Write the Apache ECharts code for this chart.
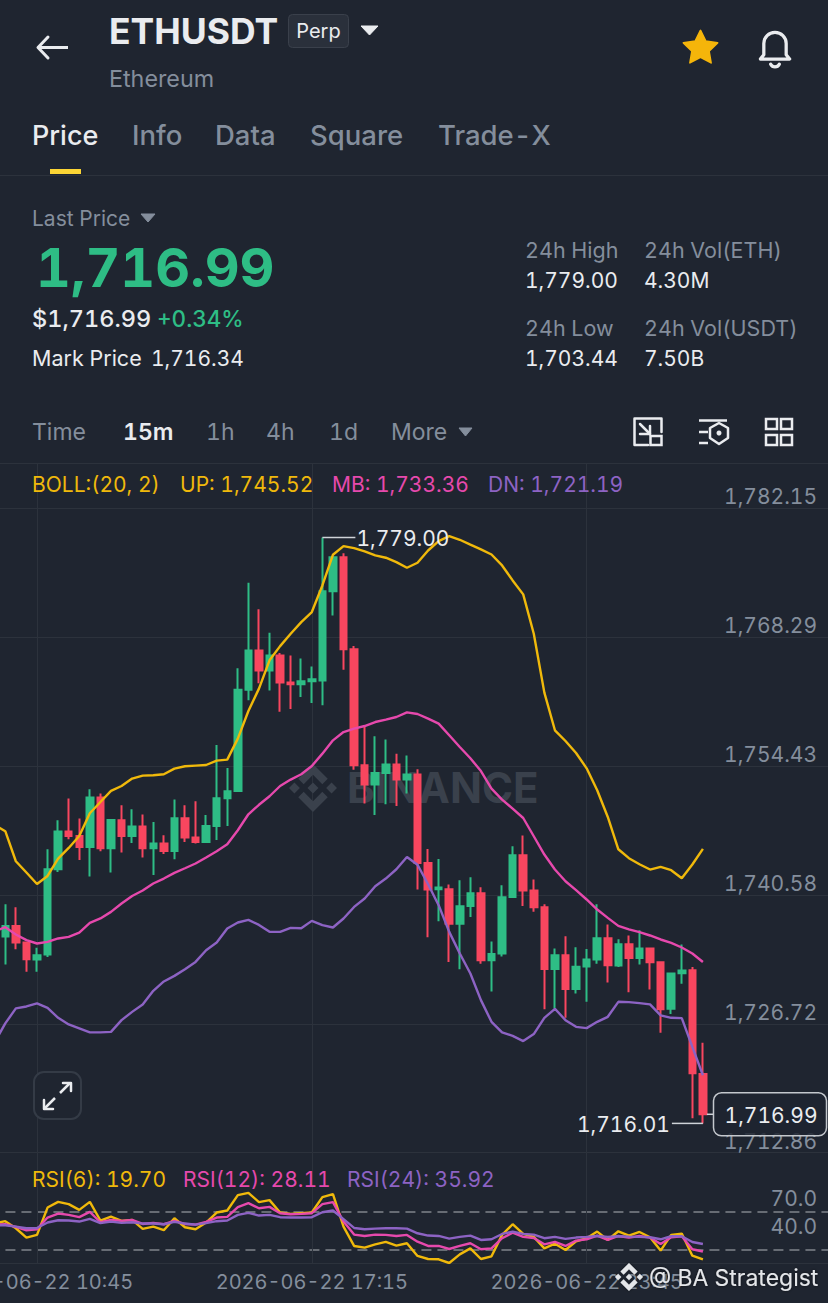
<!DOCTYPE html>
<html><head><meta charset="utf-8">
<style>html,body{margin:0;padding:0;background:#1f2530}#c{width:828px;height:1303px}#c text{font-variant-numeric:tabular-nums !important;font-feature-settings:"tnum" 1 !important}</style>
<script src="https://cdn.jsdelivr.net/npm/echarts@6/dist/echarts.min.js"></script>
</head><body><div id="c"></div>
<script>
const priceTicks=[1712.86,1726.72,1740.58,1754.43,1768.29,1782.15];
const rsiLevels=[30,70];
const rsiTicks=[40,70];
const timeTicks=['2026-06-22 10:45','2026-06-22 17:15','2026-06-22 23:45'];
const opens=['-',1736.10,1737.24,1735.46,1733.63,1734.17,1743.33,1747.38,1746.91,1745.73,1751.04,
1745.59,1748.60,1746.91,1747.92,1745.59,1746.09,1745.30,1748.81,1746.74,1746.27,
1747.99,1750.96,1751.75,1762.64,1766.86,1764.71,1766.32,1763.42,1763.21,1763.53,
1763.61,1773.23,1776.88,1766.97,1754.51,1752.43,1753.68,1754.58,1752.97,1753.51,
1744.01,1741.18,1741.18,1737.46,1739.39,1740.76,1733.56,1734.28,1740.36,1744.84,
1741.05,1739.25,1732.62,1734.09,1730.47,1732.88,1733.63,1735.92,1732.99,1735.28,
1733.80,1734.81,1733.34,1728.33,1732.16,1732.48,1721.31];
const closes=['-',1737.24,1735.46,1733.66,1734.09,1743.33,1747.38,1746.91,1745.73,1751.04,1745.59,
1748.63,1746.91,1747.92,1745.59,1746.09,1745.30,1748.81,1746.74,1746.27,1747.99,
1750.96,1751.71,1762.64,1766.86,1764.71,1766.32,1763.42,1763.21,1763.53,1763.75,
1773.23,1776.88,1766.97,1754.51,1752.43,1753.68,1754.58,1752.97,1753.51,1744.01,
1741.15,1741.37,1737.46,1739.36,1740.76,1733.56,1734.23,1740.33,1744.84,1741.05,
1739.25,1732.62,1734.09,1730.47,1732.84,1733.63,1735.92,1733.02,1735.28,1733.80,
1734.81,1733.34,1728.29,1732.13,1732.45,1721.39,1716.99];
const lows=['-',1733.10,1734.74,1732.30,1732.30,1733.91,1743.04,1746.56,1744.33,1742.55,1745.27,
1742.98,1745.13,1746.16,1744.59,1742.72,1744.98,1744.41,1746.27,1746.09,1746.27,
1746.48,1747.99,1751.75,1761.49,1763.32,1762.56,1760.27,1760.55,1761.84,1761.20,
1760.95,1770.62,1764.79,1754.04,1750.39,1749.17,1750.32,1750.13,1751.47,1741.15,
1736.03,1737.75,1733.37,1732.59,1738.21,1733.16,1730.19,1733.95,1740.36,1739.39,
1738.75,1728.29,1728.37,1727.36,1729.98,1729.08,1733.16,1731.16,1732.81,1730.12,
1733.10,1730.41,1725.75,1727.76,1731.01,1716.55,1716.01];
const highs=['-',1739.57,1739.25,1735.49,1734.88,1745.48,1748.60,1750.93,1748.78,1751.93,1751.47,
1748.67,1750.21,1749.78,1749.21,1748.41,1746.99,1750.82,1750.21,1750.64,1749.17,
1756.69,1754.22,1764.93,1774.13,1771.27,1768.76,1766.57,1766.32,1766.00,1765.14,
1779.00,1776.88,1777.31,1767.32,1758.62,1757.62,1757.27,1755.76,1755.55,1754.08,
1745.51,1744.44,1741.69,1742.15,1742.47,1741.40,1735.57,1741.61,1745.80,1746.95,
1742.23,1739.57,1734.81,1736.14,1734.95,1734.77,1739.57,1737.39,1735.81,1736.21,
1736.78,1734.81,1733.34,1732.13,1735.24,1732.81,1724.67];
const bollUp=[1748.06,1747.42,1744.19,1742.98,1741.75,1742.61,1744.48,1745.62,1746.91,1749.35,1750.56,
1751.75,1752.28,1753.08,1753.40,1753.43,1753.54,1754.15,1754.40,1754.47,1754.54,
1755.01,1755.12,1757.37,1760.34,1762.75,1765.79,1767.32,1768.65,1769.90,1770.98,
1773.84,1777.14,1778.07,1777.85,1777.50,1777.07,1776.82,1776.35,1775.74,1776.28,
1777.60,1778.60,1779.14,1778.75,1778.22,1777.71,1777.17,1775.99,1774.38,1772.88,
1768.65,1762.32,1758.27,1757.12,1755.83,1754.18,1751.82,1748.95,1745.48,1744.52,
1743.87,1743.30,1743.58,1743.23,1742.37,1743.84,1745.52];
const bollMid=[1736.67,1737.10,1736.32,1735.71,1735.35,1735.52,1735.89,1736.06,1736.53,1737.56,1738.04,
1738.75,1739.65,1740.46,1741.05,1741.80,1742.33,1742.94,1743.44,1743.95,1744.59,
1745.27,1746.02,1747.52,1749.24,1750.26,1751.18,1752.28,1752.97,1753.54,1754.43,
1755.76,1757.19,1758.08,1758.45,1758.73,1759.16,1759.42,1759.70,1760.20,1760.02,
1759.52,1758.99,1757.73,1756.47,1755.26,1753.89,1752.00,1750.82,1749.85,1748.84,
1746.88,1744.91,1743.30,1742.04,1741.08,1740.08,1739.00,1738.10,1737.24,1736.86,
1736.57,1736.21,1735.78,1735.42,1734.92,1734.28,1733.36];
const bollDn=[1724.75,1726.76,1728.37,1728.58,1728.91,1728.43,1727.36,1726.65,1726.22,1725.79,1725.79,
1725.85,1727.11,1728.00,1728.80,1730.26,1731.27,1731.87,1732.59,1733.37,1734.63,
1735.46,1736.96,1737.61,1737.89,1737.35,1736.60,1736.60,1737.03,1736.99,1737.78,
1737.32,1737.07,1738.04,1739.28,1740.19,1741.51,1742.33,1743.33,1744.65,1743.82,
1741.72,1739.47,1736.60,1734.28,1732.13,1729.26,1726.93,1725.79,1725.42,1724.86,
1725.61,1727.36,1728.33,1727.11,1726.39,1726.25,1726.93,1727.47,1729.08,1729.05,
1728.94,1728.80,1727.62,1727.36,1727.33,1724.24,1721.19];
const rsi6=[57.8,59.9,52.5,42.7,45.5,74.2,80.2,77.8,71.8,80.2,60.6,
64.8,60.2,61.3,51.8,54.2,50.4,63.0,53.5,51.4,58.5,
69.0,71.1,87.2,89.7,79.9,82.0,69.0,67.6,68.3,69.0,
85.1,88.3,54.2,33.9,32.1,35.6,38.1,34.2,36.7,23.4,
20.2,19.9,16.0,25.1,31.4,20.2,23.0,45.5,56.7,46.5,
43.4,31.4,36.3,29.7,38.8,42.0,49.0,40.2,49.3,44.8,
48.6,43.0,29.0,45.5,46.9,23.7,19.70];
const rsi12=[56.0,56.7,53.9,50.4,51.4,63.7,67.9,66.5,64.1,69.7,58.8,
61.3,60.2,61.3,57.0,58.1,56.7,60.2,57.0,56.3,59.2,
63.7,64.4,74.6,78.8,73.5,74.9,68.3,67.2,67.6,68.3,
77.8,79.9,59.5,45.8,44.4,45.8,45.5,44.4,45.5,38.4,
33.9,33.9,30.7,33.9,36.7,30.4,31.4,42.0,47.9,43.4,
42.3,35.6,38.1,33.9,39.5,40.9,44.8,40.2,44.4,42.7,
44.4,42.7,36.0,43.0,44.1,30.4,28.11];
const rsi24=[55.3,55.6,54.2,52.5,52.8,58.5,60.9,60.6,59.5,62.3,57.8,
59.5,58.1,58.8,57.4,57.4,56.7,59.2,57.4,56.3,57.8,
59.9,60.6,66.5,68.6,65.8,66.5,64.1,63.7,63.7,64.1,
69.3,71.1,62.0,52.8,51.4,52.1,52.5,52.5,52.1,47.2,
44.8,44.4,41.6,43.4,44.8,40.2,40.9,46.5,49.0,46.5,
45.8,42.0,43.4,41.3,42.7,43.4,44.4,43.4,44.1,43.7,
43.4,43.0,40.9,44.1,44.1,38.1,35.92];

const BG='#1f2530',GRID='#2c323c',GRAY='#848e9c',WHITE='#eaecef',GREEN='#2ebd85',RED='#f8465f',YEL='#f0b90b',PINK='#e649ad',PUR='#8d63c4';
const FONT='Inter, "Open Sans", sans-serif';
const SLOTS=80, BAND=10.57;
const categories=[];
{let m=9*60+45;for(let i=0;i<SLOTS;i++){const t=m+15*i,d=22+Math.floor(t/1440),hh=Math.floor(t%1440/60),mm=t%60;
 categories.push('2026-06-'+String(d).padStart(2,'0')+' '+String(hh).padStart(2,'0')+':'+String(mm).padStart(2,'0'));}}
const tickSet=new Set(timeTicks);
const isTimeTick=(i,v)=>tickSet.has(v);
const fmt=v=>Number(v).toLocaleString('en-US',{minimumFractionDigits:2,maximumFractionDigits:2});
const candle=opens.map((o,i)=>[o,closes[i],lows[i],highs[i]]);
const line=(name,data,color,x,y)=>({name,type:'line',data,xAxisIndex:x,yAxisIndex:y,symbol:'none',silent:true,z:5,
  lineStyle:{color,width:2.4},itemStyle:{color}});
const G=[];
const T=(text,x,y,size,fill,weight,align)=>G.push({type:'text',x,y:y+1,z:20,silent:true,style:{text,fill,fontFamily:FONT,fontSize:size,fontWeight:weight||400,textAlign:align||'left',textVerticalAlign:'middle'}});
const L=(x1,y1,x2,y2,stroke,w)=>G.push({type:'line',z:19,silent:true,shape:{x1,y1,x2,y2},style:{stroke,lineWidth:w||1}});
const PL=(points,stroke,w,fill)=>G.push({type:fill?'polygon':'polyline',z:21,silent:true,shape:{points},style:{stroke,lineWidth:w,fill:fill||null,lineCap:'round',lineJoin:'round'}});
const Tri=(x1,x2,y1,y2,fill)=>G.push({type:'polygon',z:20,silent:true,shape:{points:[[x1,y1],[x2,y1],[(x1+x2)/2,y2]]},style:{fill,stroke:fill,lineWidth:1,lineJoin:'round'}});
let shapeId=0;
const P=(d,box,cx,cy,size,style,z)=>{const name='svgicon'+(shapeId++);echarts.graphic.registerShape(name,echarts.graphic.extendPath(d,{}));
  const s=size/box;G.push({type:name,z:z||20,silent:true,x:cx-size/2,y:cy-size/2,scaleX:s,scaleY:s,style});};
const LOGO='M38.73 53.2l24.59-24.58 24.6 24.6 14.3-14.31L63.32 0 24.43 38.89l14.3 14.31zM0 63.31l14.3-14.31 14.31 14.31-14.31 14.3zM38.73 73.41l24.59 24.59 24.6-24.6 14.31 14.29-38.9 38.91-38.91-38.88-.02-.02zM98.01 63.31l14.3-14.31 14.3 14.31-14.3 14.3zM77.83 63.3l-14.51-14.52-10.73 10.73-1.24 1.23-2.54 2.54 14.51 14.5 14.51-14.5z';

// header
PL([[48,37],[38,47.5],[48,58]],WHITE,3);
L(38,47.5,68,47.5,WHITE,3);
T('ETHUSDT',109,30,35.5,WHITE,700);
G.push({type:'rect',z:19,silent:true,shape:{x:288.5,y:14.5,width:60,height:33,r:4},style:{fill:'#2a303b',stroke:'#3a404b',lineWidth:1}});
T('Perp',318.5,30,20,WHITE,400,'center');
Tri(361,378,26,35,WHITE);
T('Ethereum',109,77,23.3,GRAY);
P('M12 2l3.09 6.26L22 9.27l-5 4.87L18.18 21 12 17.77 5.82 21 7 14.14l-5-4.87 6.91-1.01z',24,700.5,47.5,41,{fill:'#f5b50a',stroke:'#f5b50a',lineWidth:1,lineJoin:'round'});
P('M6 17V10.5a6.5 6.5 0 0 1 13 0V17l2 2.5H4zM10 22.5a2.8 2.8 0 0 0 5 0',25,775,47,43,{fill:null,stroke:WHITE,lineWidth:1.9,lineJoin:'round',lineCap:'round'});
[['Price',32,WHITE,500,27],['Info',132,GRAY,500,27.5],['Data',215,GRAY,500,27.5],['Square',310,GRAY,500,27.5],['Trade-X',438,GRAY,500,27.5]].forEach(a=>T(a[0],a[1],134,a[4],a[2],a[3]));
G.push({type:'rect',z:20,silent:true,shape:{x:50,y:169,width:31,height:5},style:{fill:'#fcd535'}});
L(0,175.5,828,175.5,GRID,1);
// price block
T('Last Price',32,217,21,GRAY);
Tri(141,155,214,222,GRAY);
T('1,716.99',36,266,54,GREEN,700);
T('$1,716.99',32,317,23.5,WHITE,500);
T('+0.34%',157,317,22.5,GREEN,500);
T('Mark Price',32,357,21.5,WHITE);
T('1,716.34',151,357,21,WHITE);
T('24h High',525,249,21.5,GRAY);T('24h Vol(ETH)',644,249,21.5,GRAY);
T('1,779.00',525,279,21,WHITE);T('4.30M',644,279,21,WHITE);
T('24h Low',525,327,21.5,GRAY);T('24h Vol(USDT)',644,327,21.5,GRAY);
T('1,703.44',525,357,21,WHITE);T('7.50B',644,357,21,WHITE);
// interval row
[['Time',32,GRAY,400],['15m',123,WHITE,600],['1h',206,GRAY,400],['4h',266,GRAY,400],['1d',329,GRAY,400],['More',391,GRAY,400]].forEach(a=>T(a[0],a[1],431,23,a[2],a[3]));
Tri(459,472,428,436,GRAY);
PL([[648,445],[634.5,445],[634.5,418.5],[661.5,418.5],[661.5,432]],WHITE,2.5);
PL([[640,424],[650,434]],WHITE,2.5);PL([[640,434],[650,434],[650,426]],WHITE,2.5);
G.push({type:'rect',z:20,silent:true,shape:{x:650.5,y:436,width:11,height:9},style:{fill:null,stroke:WHITE,lineWidth:2.5}});
L(699,420.5,727,420.5,WHITE,2.5);L(699,432,708,432,WHITE,2.5);L(699,443,708,443,WHITE,2.5);
PL([[719,423],[728,428],[728,438],[719,444],[710,438],[710,428],[719,423]],WHITE,2.5);
G.push({type:'circle',z:20,silent:true,shape:{cx:719,cy:433,r:2.5},style:{fill:WHITE}});
[[766,419],[781,419],[766,435],[781,435]].forEach(p=>G.push({type:'rect',z:20,silent:true,shape:{x:p[0],y:p[1],width:11,height:10},style:{fill:null,stroke:WHITE,lineWidth:2.5}}));
L(0,463.5,828,463.5,GRID,1);
// legends
T('BOLL:(20, 2)',32,483,21,YEL);T('UP: 1,745.52',180,483,21,YEL);T('MB: 1,733.36',332,483,21,PINK);T('DN: 1,721.19',488,483,21,PUR);
T('RSI(6): 19.70',32,1178,21,YEL);T('RSI(12): 28.11',183,1178,21,PINK);T('RSI(24): 35.92',347,1178,21,PUR);
// watermark
P(LOGO,126.6,313,788,48,{fill:'#3a414c'},1);
G.push({type:'text',x:347,y:787,z:1,silent:true,style:{text:'BINANCE',fill:'#3a414c',fontFamily:FONT,fontSize:42,fontWeight:700,textAlign:'left',textVerticalAlign:'middle'}});
// expand button
G.push({type:'rect',z:18,silent:true,shape:{x:34,y:1072,width:47,height:47,r:10},style:{fill:BG,stroke:'#343b46',lineWidth:2}});
L(60,1093,70,1083,WHITE,2.5);L(45,1108,55,1098,WHITE,2.5);
PL([[63,1083],[71,1083],[71,1091]],WHITE,2.5);
PL([[44,1100],[44,1109],[53,1109]],WHITE,2.5);
// footer watermark
P(LOGO,126.6,629,1277,28,{fill:'#e4e6e9',shadowBlur:3,shadowColor:'rgba(0,0,0,.5)'},30);
G.push({type:'text',x:649,y:1278,z:30,silent:true,style:{text:'@ BA Strategist',fill:'#e4e6e9',fontFamily:FONT,fontSize:23,textAlign:'left',textVerticalAlign:'middle',textShadowBlur:3,textShadowColor:'rgba(0,0,0,.6)'}});

const chart=echarts.init(document.getElementById('c'),null,{renderer:'svg'});
const option={
 animation:false,backgroundColor:BG,
 grid:[{left:-BAND,width:BAND*SLOTS,top:463.5,height:689.2,outerBoundsMode:'none'},{left:-BAND,width:BAND*SLOTS,top:1152.7,height:110.3,outerBoundsMode:'none'}],
 xAxis:[
  {type:'category',gridIndex:0,data:categories,boundaryGap:true,axisLine:{show:false},axisTick:{show:false},axisLabel:{show:false},
   splitLine:{show:true,interval:isTimeTick,alignWithLabel:true,lineStyle:{color:GRID,width:1}}},
  {type:'category',gridIndex:1,data:categories,boundaryGap:true,axisLine:{show:true,lineStyle:{color:GRID,width:1}},axisTick:{show:false},
   axisLabel:{show:true,interval:isTimeTick,color:GRAY,fontFamily:FONT,fontSize:20,margin:9,hideOverlap:false},
   splitLine:{show:true,interval:isTimeTick,alignWithLabel:true,lineStyle:{color:GRID,width:1}}}
 ],
 yAxis:[
  {type:'value',gridIndex:0,position:'right',min:1712.86,max:1786.95,axisLine:{show:false},
   axisTick:{show:false,customValues:priceTicks},
   axisLabel:{inside:true,margin:18,color:GRAY,fontFamily:FONT,fontSize:21,verticalAlign:'bottom',padding:[0,0,1,0],customValues:priceTicks,formatter:fmt},
   splitLine:{show:true,lineStyle:{color:GRID,width:1}}},
  {type:'value',gridIndex:1,position:'right',min:16,max:131.8,axisLine:{show:false},
   axisTick:{show:false,customValues:rsiLevels},
   axisLabel:{inside:true,margin:18,color:GRAY,fontFamily:FONT,fontSize:21,verticalAlign:'bottom',padding:[0,0,3,0],customValues:rsiTicks,formatter:v=>Number(v).toFixed(1)},
   splitLine:{show:true,lineStyle:{color:'#80848a',width:1.5,type:[10,6]}}}
 ],
 series:[
  {name:'ETHUSDT',type:'candlestick',data:candle,xAxisIndex:0,yAxisIndex:0,barWidth:7,z:3,silent:true,
   itemStyle:{color:GREEN,color0:RED,borderColor:GREEN,borderColor0:RED,borderWidth:2}},
  line('UP',bollUp,YEL,0,0),line('MB',bollMid,PINK,0,0),line('DN',bollDn,PUR,0,0),
  line('RSI6',rsi6,YEL,1,1),line('RSI12',rsi12,PINK,1,1),line('RSI24',rsi24,PUR,1,1)
 ],
 graphic:{elements:G}
};
chart.setOption(option);
// price annotations anchored through the axis scales
const hiV=Math.max(...highs.filter(v=>v!=='-')), loV=Math.min(...lows.filter(v=>v!=='-'));
const hiI=highs.indexOf(hiV), loI=lows.indexOf(loV), lastI=closes.length-1;
const hp=chart.convertToPixel({gridIndex:0},[hiI,hiV]), lp=chart.convertToPixel({gridIndex:0},[loI,loV]), cp=chart.convertToPixel({gridIndex:0},[lastI,closes[lastI]]);
L(hp[0],hp[1],hp[0]+33,hp[1],'#cfd3d8',1.5);
T(fmt(hiV),hp[0]+34,hp[1],21,WHITE);
L(lp[0],lp[1],lp[0]-31,lp[1],'#cfd3d8',1.5);
T(fmt(loV),lp[0]-33,lp[1],21,WHITE,400,'right');
L(cp[0]+4,cp[1],713,cp[1],'#cfd3d8',1.5);
G.push({type:'rect',z:22,silent:true,shape:{x:713.5,y:cp[1]-21.5,width:113,height:43,r:8},style:{fill:'rgba(31,37,48,.85)',stroke:'#c4c8cd',lineWidth:1.5}});
G.push({type:'text',x:771,y:cp[1]+1,z:23,silent:true,style:{text:fmt(closes[lastI]),fill:WHITE,fontFamily:FONT,fontSize:21,textAlign:'center',textVerticalAlign:'middle'}});
chart.setOption({graphic:{elements:G}},{replaceMerge:['graphic']});
</script></body></html>
